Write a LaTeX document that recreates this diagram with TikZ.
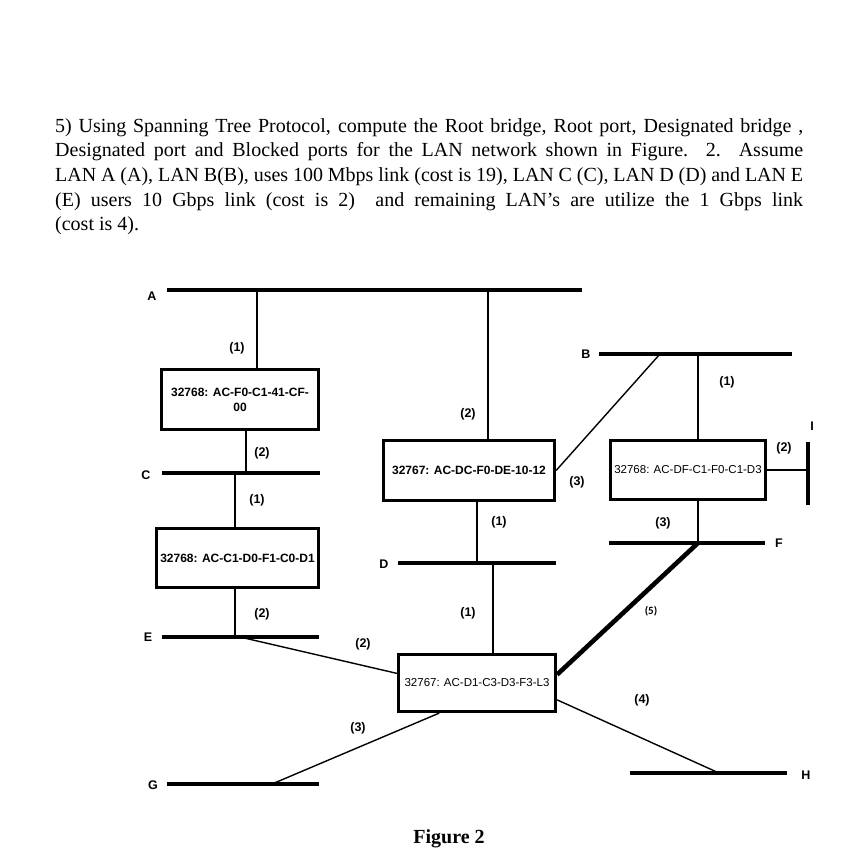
\documentclass[tikz,border=0pt]{standalone}
\usepackage{fontspec}
\setmainfont{Liberation Serif}
\setsansfont{Liberation Sans}
\newfontfamily\calfont{Carlito}
\usetikzlibrary{calc}
\begin{document}
\begin{tikzpicture}[x=1pt,y=-1pt,
  lan/.style={line width=3.5pt},
  wire/.style={line width=1.4pt},
  heavy/.style={line width=4.6pt},
  bridge/.style={draw, line width=3.2pt, inner sep=0pt, align=center,
    font=\sffamily\bfseries\fontsize{12}{15}\selectfont},
  bridgelt/.style={bridge, font=\sffamily\fontsize{11.5}{14}\selectfont},
  lbl/.style={inner sep=0pt, font=\sffamily\bfseries\fontsize{12.5}{14}\selectfont},
  smalllbl/.style={inner sep=0pt, font=\calfont\bfseries\fontsize{11}{13}\selectfont},
  txt/.style={anchor=base west, inner sep=0pt, font=\fontsize{20}{24}\selectfont}]
\useasboundingbox (0,0) rectangle (864,864);
\fill[white] (0,0) rectangle (864,864);

% ---------- question text ----------
\node[txt] (t1) at (55,132) {\makebox[748pt][s]{5) Using Spanning Tree Protocol, compute the Root bridge, Root port, Designated bridge ,}};
\node[txt] (t2) at (55,157) {\makebox[748pt][s]{Designated port and Blocked ports for the LAN network shown in Figure. 2. Assume}};
\node[txt] (t3) at (55,181.5) {\makebox[748pt][s]{LAN A (A), LAN B(B), uses 100 Mbps link (cost is 19), LAN C (C), LAN D (D) and LAN E}};
\node[txt] (t4) at (55,206) {\makebox[748pt][s]{(E) users 10 Gbps link (cost is 2)\ \ and remaining LAN’s are utilize the 1 Gbps link}};
\node[txt] (t5) at (55,230.5) {(cost is 4).};

% ---------- LAN segments ----------
\coordinate (A1) at (167,290); \coordinate (A2) at (582,290);
\coordinate (B1) at (599,354); \coordinate (B2) at (792,354);
\coordinate (C1) at (162,473); \coordinate (C2) at (320,473);
\coordinate (D1) at (398,563); \coordinate (D2) at (556,563);
\coordinate (E1) at (162,637); \coordinate (E2) at (319,637);
\coordinate (F1) at (609,543); \coordinate (F2) at (765,543);
\coordinate (G1) at (167,784); \coordinate (G2) at (319,784);
\coordinate (H1) at (630,773); \coordinate (H2) at (787,773);
\coordinate (I1) at (808,442); \coordinate (I2) at (808,505);
\foreach \s in {A,B,C,D,E,F,G,H,I} \draw[lan] (\s1) -- (\s2);

% attach points
\coordinate (aA1) at (257,290); \coordinate (aA2) at (488,290);
\coordinate (aB1) at (660,354); \coordinate (aB2) at (698,354);
\coordinate (aC1) at (246,473); \coordinate (aC2) at (235,473);
\coordinate (aD1) at (477,563); \coordinate (aD2) at (493,563);
\coordinate (aE1) at (235,637); \coordinate (aE2) at (240,637);
\coordinate (aF)  at (698,543);
\coordinate (aG)  at (272,784);
\coordinate (aH)  at (719,773);
\coordinate (aI)  at (808,470);

% LAN labels
\node[lbl] (lA) at (152,296) {A};
\node[lbl] (lB) at (586,354) {B};
\node[lbl] (lC) at (146,475) {C};
\node[lbl] (lD) at (384,564) {D};
\node[lbl] (lE) at (148,637) {E};
\node[lbl] (lF) at (779,543) {F};
\node[lbl] (lG) at (153,785) {G};
\node[lbl] (lH) at (806,775) {H};
\node[lbl] (lI) at (812,426) {I};

% ---------- bridges ----------
\node[bridge, minimum width=157pt, minimum height=60pt] (b1) at (240,399.5) {32768: AC-F0-C1-41-CF-\\00};
\node[bridge, minimum width=171pt, minimum height=60pt] (b2) at (469,470.5) {32767: AC-DC-F0-DE-10-12};
\node[bridgelt, minimum width=155pt, minimum height=59pt] (b3) at (688,470) {32768: AC-DF-C1-F0-C1-D3};
\node[bridgelt, minimum width=157pt, minimum height=57pt] (b4) at (477,683) {32767: AC-D1-C3-D3-F3-L3};
\node[bridge, minimum width=162pt, minimum height=59pt] (b5) at (237.5,558) {32768: AC-C1-D0-F1-C0-D1};

% ---------- connectors ----------
\draw[wire] (aA1) -- (b1.north -| aA1);
\draw[wire] (b1.south -| aC1) -- (aC1);
\draw[wire] (aC2) -- (b5.north -| aC2);
\draw[wire] (b5.south -| aE1) -- (aE1);
\draw[wire] (aA2) -- (b2.north -| aA2);
\draw[wire] (b2.east) -- (aB1);
\draw[wire] (b2.south -| aD1) -- (aD1);
\draw[wire] (aD2) -- (b4.north -| aD2);
\draw[wire] (aB2) -- (b3.north -| aB2);
\draw[wire] (b3.east) -- (aI);
\draw[wire] (b3.south -| aF) -- (aF);
\draw[wire] (aE2) -- ($(b4.north west)!0.34!(b4.south west)$);
\draw[wire] ($(b4.south west)!0.264!(b4.south east)$) -- (aG);
\draw[heavy] ($(b4.north east)!0.36!(b4.south east)$) -- (aF);
\draw[wire] ($(b4.north east)!0.78!(b4.south east)$) -- (aH);

% ---------- port numbers ----------
\node[lbl] (p1) at (237,348) {(1)};
\node[lbl] (p2) at (262,453) {(2)};
\node[lbl] (p3) at (257,500) {(1)};
\node[lbl] (p4) at (262,614) {(2)};
\node[lbl] (p5) at (468,414) {(2)};
\node[lbl] (p6) at (577,482) {(3)};
\node[lbl] (p7) at (499,522) {(1)};
\node[lbl] (p8) at (468,613) {(1)};
\node[lbl] (p9) at (363,644) {(2)};
\node[lbl] (p10) at (358,728) {(3)};
\node[lbl] (p11) at (727,382) {(1)};
\node[lbl] (p12) at (784,448) {(2)};
\node[lbl] (p13) at (663,523) {(3)};
\node[smalllbl] (p14) at (651,611) {(5)};
\node[lbl] (p15) at (642,700) {(4)};

% ---------- caption ----------
\node[anchor=base, inner sep=0pt, font=\bfseries\fontsize{20}{24}\selectfont] (cap) at (449,843) {Figure 2};
\end{tikzpicture}
\end{document}
